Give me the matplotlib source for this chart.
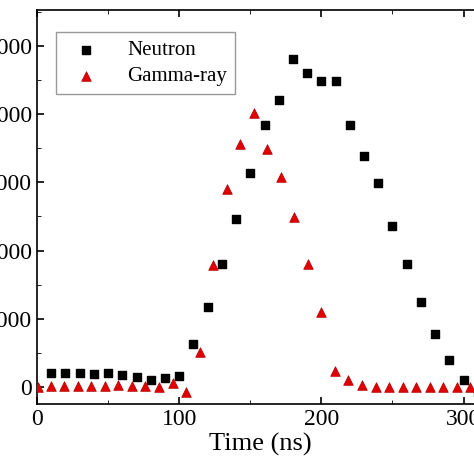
import matplotlib
matplotlib.use("Agg")
import matplotlib.pyplot as plt
from matplotlib.ticker import MultipleLocator

plt.rcParams['font.family'] = ['Liberation Serif', 'DejaVu Serif']

n_t = [10,20,30,40,50,60,70,80,90,100,110,120,130,140,150,160,170,180,190,200,210,220,230,240,250,260,270,280,290,300,310]
n_y = [205,205,205,195,205,185,146,107,137,161,639,1171,1800,2463,3137,3839,4210,4805,4595,4483,4488,3844,3390,2985,2366,1810,1249,780,400,107,-63]
g_t = [0.5,9.6,19.2,28.8,37.9,47.5,57.1,66.7,76.3,85.9,95.4,104.8,114.4,124,133.6,142.9,152.5,162.1,171.7,181,190.6,200,209.6,218.9,228.5,238.1,247.7,257.3,266.4,276.2,285.6,295.2,304.8,314]
g_y = [10,20,24,24,15,20,34,24,15,10,59,-63,522,1790,2898,3561,4010,3488,3073,2488,1800,1107,244,107,34,0,0,0,0,0,0,0,10,0]
yticks = [0,1000,2000,3000,4000,5000]
xticks = [0,100,200,300]

fig = plt.figure(figsize=(4.74,4.74), dpi=100)
ax = fig.add_axes([37/474, 1-404/474, 1-37/474+0.02, (404-10)/474])
ax.scatter(n_t, n_y, marker='s', s=34, c='black', label='Neutron', zorder=3)
ax.scatter(g_t, g_y, marker='^', s=48, c='#e00000', edgecolors='#b00000', linewidths=0.5, label='Gamma-ray', zorder=3)
ax.set_xlim(0, 314)
ax.set_ylim(-244, 5522)
ax.set_xticks(xticks)
ax.set_yticks(yticks)
ax.xaxis.set_minor_locator(MultipleLocator(50))
ax.yaxis.set_minor_locator(MultipleLocator(500))
ax.tick_params(axis='both', labelsize=17, width=1.2, length=5)
ax.tick_params(which='minor', length=3)
ax.tick_params(top=True, which='both', direction='in')
ax.set_xlabel('Time (ns)', fontsize=19, labelpad=2)
for s in ax.spines.values():
    s.set_linewidth(1.2)
ax.legend(loc='upper left', bbox_to_anchor=(0.02, 0.97), fontsize=15, frameon=True, fancybox=False,
          edgecolor='gray', handletextpad=1.0, borderpad=0.4, labelspacing=0.3, scatterpoints=1)
fig.savefig('out.png', dpi=100)
